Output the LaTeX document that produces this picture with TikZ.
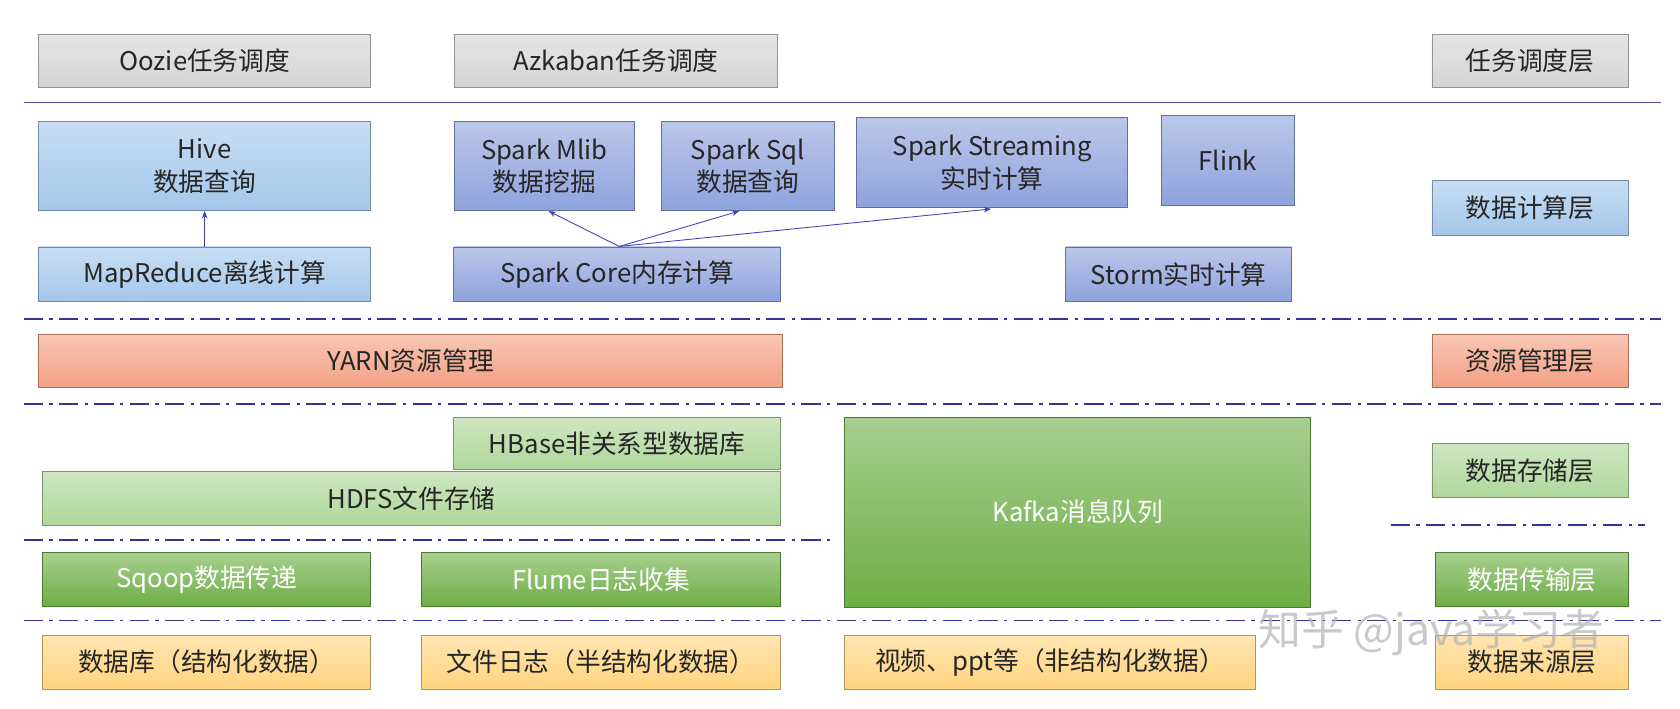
\documentclass[tikz,border=0pt]{standalone}
\usepackage{fontspec}
\setmainfont{Noto Sans CJK SC}
\usetikzlibrary{arrows.meta}
\definecolor{gr}{HTML}{D4D4D4}
\definecolor{lb}{HTML}{A4C7EA}
\definecolor{pb}{HTML}{8EA2DC}
\definecolor{og}{HTML}{F3A083}
\definecolor{lg}{HTML}{AED79A}
\definecolor{dg}{HTML}{6DAE45}
\definecolor{yl}{HTML}{FFD47E}
\begin{document}
\begin{tikzpicture}[x=1pt,y=-1pt,
 bx/.style={draw=#1!70!black,line width=0.8pt,top color=#1!60!white,bottom color=#1,inner sep=0pt,text=black!85,font=\fontsize{24}{30}\selectfont},
 sep/.style={draw=blue!50!black!80,line width=1.6pt,dash pattern=on 18pt off 6pt on 3pt off 6pt},
 ar/.style={-{Stealth[length=7pt]},draw=blue!50!gray,line width=0.8pt}]
\useasboundingbox (0,0) rectangle (1568,661);
% row 1
\node[bx=gr,minimum width=310,minimum height=50] (oozie) at (191,57) {Oozie任务调度};
\node[bx=gr,minimum width=302,minimum height=50] (azk) at (575,57) {Azkaban任务调度};
\node[bx=gr,minimum width=183,minimum height=50] (l1) at (1428,57) {任务调度层};
\draw[blue!50!black!70,line width=0.8pt] (22,96) -- (1550,96);
% compute
\node[bx=lb,minimum width=310,minimum height=83,align=center] (hive) at (191,155) {Hive\\数据查询};
\node[bx=lb,minimum width=310,minimum height=51] (mr) at (191,256) {MapReduce离线计算};
\node[bx=pb,minimum width=168,minimum height=83,align=center] (mlib) at (508,155) {Spark Mlib\\数据挖掘};
\node[bx=pb,minimum width=161,minimum height=83,align=center] (sql) at (698,155) {Spark Sql\\数据查询};
\node[bx=pb,minimum width=253,minimum height=84,align=center] (stream) at (926,152) {Spark Streaming\\实时计算};
\node[bx=pb,minimum width=124,minimum height=84] (flink) at (1146,150) {Flink};
\node[bx=pb,minimum width=305,minimum height=51] (core) at (576,256) {Spark Core内存计算};
\node[bx=pb,minimum width=211,minimum height=51] (storm) at (1100,256) {Storm实时计算};
\node[bx=lb,minimum width=183,minimum height=51] (l2) at (1428,194) {数据计算层};
\draw[ar] (mr) -- (hive);
\coordinate (cs) at (578,230);
\draw[ar] (cs) -- (512,197);
\draw[ar] (cs) -- (690,197);
\draw[ar] (cs) -- (925,195);
\draw[sep] (22,298) -- (1550,298);
% resource
\node[bx=og,minimum width=694,minimum height=50] (yarn) at (383,337) {YARN资源管理};
\node[bx=og,minimum width=183,minimum height=50] (l3) at (1428,337) {资源管理层};
\draw[sep] (22,377) -- (1550,377);
% storage
\node[bx=lg,minimum width=305,minimum height=48] (hbase) at (576,414) {HBase非关系型数据库};
\node[bx=lg,minimum width=689,minimum height=50] (hdfs) at (384,465) {HDFS文件存储};
\node[bx=dg,minimum width=435,minimum height=177,text=white] (kafka) at (1006,478) {Kafka消息队列};
\node[bx=lg,minimum width=183,minimum height=51] (l4) at (1428,439) {数据存储层};
\draw[sep] (22,504) -- (775,504);
\draw[sep] (1298,490) -- (1535,490);
% transport
\node[bx=dg,minimum width=306,minimum height=50,text=white] (sqoop) at (193,541) {Sqoop数据传递};
\node[bx=dg,minimum width=335,minimum height=50,text=white] (flume) at (561,541) {Flume日志收集};
\node[bx=dg,minimum width=180,minimum height=50,text=white] (l5) at (1430,541) {数据传输层};
\draw[sep] (22,579) -- (1550,579);
% source
\node[bx=yl,minimum width=306,minimum height=50] (db) at (193,618) {数据库（结构化数据）};
\node[bx=yl,minimum width=335,minimum height=50] (log) at (561,618) {文件日志（半结构化数据）};
\node[bx=yl,minimum width=383,minimum height=50] (vid) at (980,618) {视频、ppt等（非结构化数据）};
\node[bx=yl,minimum width=180,minimum height=50] (l6) at (1430,618) {数据来源层};
\node[text=gray!60,opacity=0.7,font=\fontsize{40}{44}\selectfont] (wm) at (1336,590) {知乎 @java学习者};
\end{tikzpicture}
\end{document}
